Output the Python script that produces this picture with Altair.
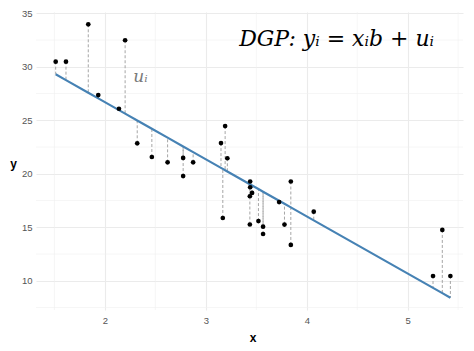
import altair as alt
import pandas as pd

# ---- data ----
x_vals = [1.512, 1.614, 1.835, 1.934, 2.139, 2.200, 2.320, 2.465, 2.621, 2.775,
          2.775, 2.874, 3.150, 3.168, 3.191, 3.213, 3.439, 3.439, 3.458, 3.436,
          3.436, 3.521, 3.567, 3.567, 3.726, 3.779, 3.842, 3.842, 4.069, 5.251,
          5.343, 5.423]
y_vals = [30.48, 30.48, 33.97, 27.36, 26.08, 32.48, 22.85, 21.57, 21.07, 21.48,
          19.79, 21.07, 22.87, 15.87, 24.46, 21.45, 19.28, 18.74, 18.21, 17.90,
          15.26, 15.58, 15.06, 14.37, 17.36, 15.25, 19.28, 13.35, 16.46, 10.45,
          14.75, 10.45]

# fitted line drawn in the picture (intercept, slope)
line_intercept = 37.37
line_slope = -5.339

x_major = [2, 3, 4, 5]
x_minor = [1.5, 2.5, 3.5, 4.5, 5.5]
y_major = [10, 15, 20, 25, 30, 35]
y_minor = [7.5, 12.5, 17.5, 22.5, 27.5, 32.5]
x_domain = [1.317, 5.548]
y_domain = [7.27, 35.12]

formula_label = "DGP:  yᵢ = xᵢb +  uᵢ"
u_label = "uᵢ"

df = pd.DataFrame({"x": x_vals, "y": y_vals})

x_scale = alt.Scale(domain=x_domain, nice=False, zero=False)
y_scale = alt.Scale(domain=y_domain, nice=False, zero=False)

x_axis = alt.Axis(
    values=x_major,
    format="d",
    labelOverlap=False,
    gridWidth=1.1,
    title="x",
    titleX=216.5,
    titleY=27,
    titleBaseline="middle",
    labelPadding=5,
)
y_axis = alt.Axis(
    values=y_major,
    format="d",
    labelOverlap=False,
    gridWidth=1.1,
    title="y",
    titleAngle=0,
    titleX=-23,
    titleY=151,
    titleAlign="center",
    titleBaseline="middle",
    labelPadding=4,
)


def X(field):
    return alt.X(field, scale=x_scale, axis=x_axis, title="x")


def Y(field):
    return alt.Y(field, scale=y_scale, axis=y_axis, title="y")


minor_x = alt.Chart(pd.DataFrame({"v": x_minor})).mark_rule(
    color="#f0f0f0", strokeWidth=0.6
).encode(x=X("v:Q"))

minor_y = alt.Chart(pd.DataFrame({"v": y_minor})).mark_rule(
    color="#f0f0f0", strokeWidth=0.6
).encode(y=Y("v:Q"))

base = alt.Chart(df).transform_calculate(
    fit=f"{line_intercept} + ({line_slope}) * datum.x"
)

segments = base.mark_rule(color="#a6a6a6", strokeDash=[3, 2], strokeWidth=1).encode(
    x=X("x:Q"), y=Y("y:Q"), y2="fit:Q"
)

line = base.mark_line(color="#4682B4", strokeWidth=2.2).encode(
    x=X("x:Q"), y=Y("fit:Q")
)

points = base.mark_circle(color="black", size=22, opacity=1).encode(
    x=X("x:Q"), y=Y("y:Q")
)

formula = alt.Chart(pd.DataFrame({"x": [3.33], "y": [31.9], "t": [formula_label]})).mark_text(
    align="left", baseline="alphabetic", font="DejaVu Serif", fontStyle="italic",
    fontSize=22, color="black"
).encode(x=X("x:Q"), y=Y("y:Q"), text="t:N")

u_text = alt.Chart(pd.DataFrame({"x": [2.28], "y": [29.05], "t": [u_label]})).mark_text(
    align="left", baseline="middle", font="DejaVu Serif", fontStyle="italic",
    fontSize=17, color="#7a7a7a"
).encode(x=X("x:Q"), y=Y("y:Q"), text="t:N")

chart = alt.layer(minor_x, minor_y, segments, line, points, formula, u_text).properties(
    width=427,
    height=298,
    autosize=alt.AutoSizeParams(type="none"),
    padding={"left": 36, "top": 12, "right": 11, "bottom": 41},
    background="white",
).configure_view(stroke=None).configure_axis(
    ticks=False,
    domain=False,
    gridColor="#ebebeb",
    labelColor="#555555",
    labelFont="Liberation Sans",
    labelFontSize=9.5,
    titleFont="Liberation Sans",
    titleFontSize=12,
    titleFontWeight="bold",
    titleColor="black",
)

chart.save("out.html", embed_options={"renderer": "svg", "actions": False})
